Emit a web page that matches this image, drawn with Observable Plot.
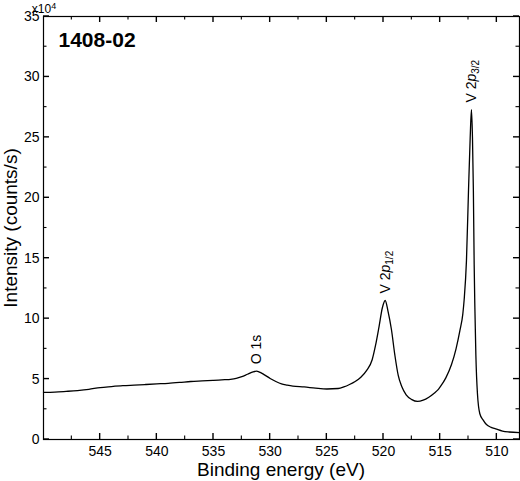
<!DOCTYPE html>
<html>
<head>
<meta charset="utf-8">
<script src="https://cdn.jsdelivr.net/npm/d3@7"></script>
<script src="https://cdn.jsdelivr.net/npm/@observablehq/plot@0.6"></script>
<style>
  html, body { margin: 0; padding: 0; background: #fff; }
  #chart { position: relative; width: 520px; height: 481px; }
  svg { font-family: "Liberation Sans", Arial, sans-serif; }
</style>
</head>
<body>
<div id="chart"></div>
<script>
// Binding energy (eV) and intensity (x10^4 counts/s)
const energy = [
  550, 549, 548, 547, 546, 545, 544, 543, 542, 541, 540, 539, 538, 537, 536, 535, 534, 533.5, 533,
  532.5, 532, 531.5, 531.2, 531, 530.5, 530, 529.5, 529, 528.5, 528, 527, 526, 525, 524, 523.5, 523,
  522.5, 522, 521.5, 521, 520.7, 520.4, 520.1, 519.85, 519.6, 519.3, 519.0, 518.7, 518.4, 518.0,
  517.5, 517.0, 516.5, 516.0, 515.5, 515.2, 515.0, 514.5, 514.0, 513.6, 513.26, 513.0, 512.88,
  512.68, 512.5, 512.35, 512.24, 512.15, 512.07, 512.0, 511.94, 511.85, 511.71, 511.5, 511.2,
  510.98, 510.5, 510.1, 509.5, 508.93, 508
];
const intensity = [
  3.90, 3.92, 3.98, 4.05, 4.15, 4.30, 4.38, 4.45, 4.50, 4.55, 4.60, 4.65, 4.72, 4.80, 4.85, 4.90, 4.95, 4.98, 5.05,
  5.20, 5.40, 5.60, 5.65, 5.60, 5.35, 5.05, 4.80, 4.60, 4.50, 4.42, 4.35, 4.25, 4.18, 4.22, 4.35, 4.55,
  4.80, 5.15, 5.70, 6.60, 7.80, 9.30, 10.9, 11.5, 10.6, 9.1, 7.0, 5.3, 4.4, 3.7,
  3.3, 3.15, 3.25, 3.5, 3.85, 4.1, 4.35, 5.1, 6.2, 7.5, 9.0, 10.4, 11.6,
  14.8, 20.6, 25.0, 27.3, 25.0, 20.6, 14.5, 11.0, 7.0, 3.78, 2.13, 1.6,
  1.3, 1.0, 0.88, 0.7, 0.62, 0.57
];

const xMajor = [545, 540, 535, 530, 525, 520, 515, 510];
const xMinor = [547.5, 542.5, 537.5, 532.5, 527.5, 522.5, 517.5, 512.5];
const yMajor = [0, 5, 10, 15, 20, 25, 30, 35];
const yMinor = [2.5, 7.5, 12.5, 17.5, 22.5, 27.5, 32.5];

const peakNames = ["O 1s", "V 2p1/2", "V 2p3/2"];
const peakEnergy = [531.2, 519.85, 512.24];
const peakIntensity = [5.65, 11.5, 27.3];

const sampleName = "1408-02";
const xLabel = "Binding energy (eV)";
const yLabel = "Intensity (counts/s)";

const spectrum = energy.map((e, i) => ({e, v: intensity[i]}));
const peaks = peakNames.map((n, i) => ({n, e: peakEnergy[i], v: peakIntensity[i]}));

const black = "#000";
const W = 520, H = 481, mL = 43, mR = 1, mT = 16, mB = 42;

const plot = Plot.plot({
  width: W,
  height: H,
  marginLeft: mL,
  marginRight: mR,
  marginTop: mT,
  marginBottom: mB,
  style: {fontFamily: "'Liberation Sans', Arial, sans-serif", fontSize: "14px", color: black, background: "#fff"},
  x: {domain: [550, 508], label: null},
  y: {domain: [0, 35], label: null},
  marks: [
    Plot.frame({stroke: black, strokeWidth: 1.2}),
    Plot.axisX({anchor: "bottom", ticks: xMajor, tickSize: 0, tickPadding: 7, fontSize: 14, label: null}),
    Plot.axisY({anchor: "left", ticks: yMajor, tickSize: 0, tickPadding: 4, fontSize: 14, label: null}),
    Plot.line(spectrum, {x: "e", y: "v", stroke: black, strokeWidth: 1.3, curve: "monotone-x"}),
    Plot.text(peaks, {x: "e", y: "v", text: "n", rotate: -90, textAnchor: "start", dy: -7, fontSize: 14, fill: black, className: "peaklbl"}),
    Plot.text([sampleName], {frameAnchor: "top-left", text: d => d, dx: 15, dy: 24, fontSize: 21, fontWeight: "bold", fill: black, textAnchor: "start", lineAnchor: "middle"})
  ]
});

const svg = d3.select(plot);
const sx = plot.scale("x"), sy = plot.scale("y");
const x0 = mL, x1 = W - mR, y0 = mT, y1 = H - mB;

// inward ticks on all four sides, placed through Plot's own scales
const ticks = svg.append("g").attr("stroke", black).attr("fill", "none");
function addX(vals, len, sw) {
  for (const v of vals) {
    const px = sx.apply(v);
    ticks.append("line").attr("x1", px).attr("x2", px).attr("y1", y1).attr("y2", y1 - len).attr("stroke-width", sw);
    ticks.append("line").attr("x1", px).attr("x2", px).attr("y1", y0).attr("y2", y0 + len).attr("stroke-width", sw);
  }
}
function addY(vals, len, sw) {
  for (const v of vals) {
    const py = sy.apply(v);
    ticks.append("line").attr("y1", py).attr("y2", py).attr("x1", x0).attr("x2", x0 + len).attr("stroke-width", sw);
    ticks.append("line").attr("y1", py).attr("y2", py).attr("x1", x1).attr("x2", x1 - len).attr("stroke-width", sw);
  }
}
addX(xMajor, 6, 1.4);
addX(xMinor, 3.5, 1.1);
addY(yMajor, 6, 1.4);
addY(yMinor, 3.5, 1.1);

// rich text for peak labels (italic p, subscript)
svg.selectAll(".peaklbl text").each(function() {
  const t = d3.select(this);
  const s = t.text();
  const m = s.match(/^V 2p(.+)$/);
  if (m) {
    t.text(null);
    t.append("tspan").text("V 2");
    t.append("tspan").attr("font-style", "italic").text("p");
    t.append("tspan").attr("font-size", 10).attr("dy", "0.35em").text(m[1]);
  }
});

// axis titles and multiplier
svg.append("text").attr("x", 281).attr("y", 476).attr("text-anchor", "middle")
  .attr("font-size", 19).attr("fill", black).text(xLabel);
svg.append("text").attr("transform", "translate(17,228) rotate(-90)").attr("text-anchor", "middle")
  .attr("font-size", 19).attr("fill", black).text(yLabel);
const mult = svg.append("text").attr("x", 44).attr("y", 13).attr("font-size", 12).attr("fill", black);
mult.append("tspan").text("x10");
mult.append("tspan").attr("font-size", 9).attr("dy", "-0.5em").text("4");

document.getElementById("chart").appendChild(plot);
</script>
</body>
</html>
